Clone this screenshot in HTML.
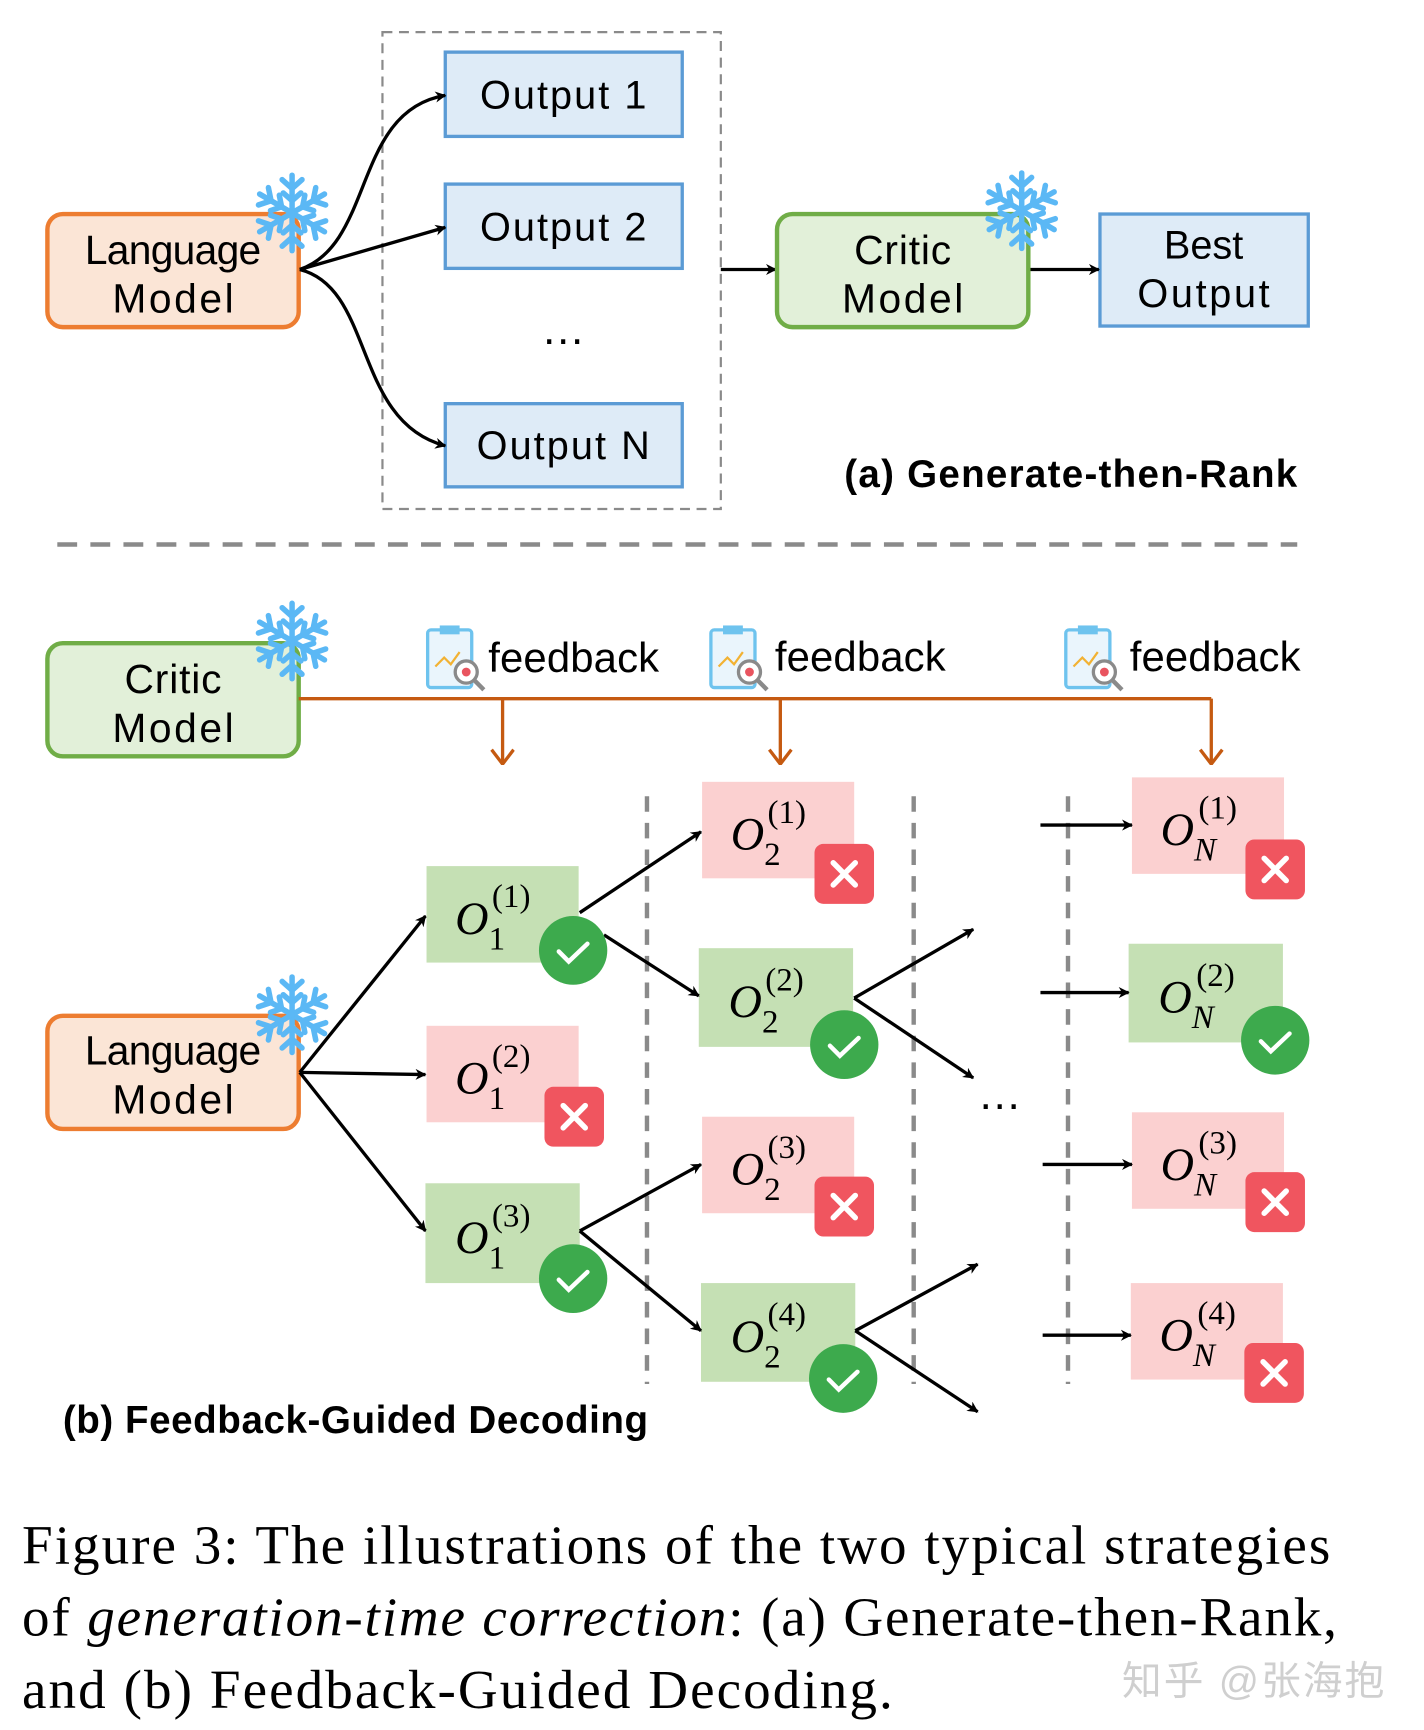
<!DOCTYPE html>
<html><head><meta charset="utf-8"><style>
html,body{margin:0;padding:0;background:#fff;}
svg{display:block;}
.s{font-family:"Liberation Sans",sans-serif;}
.m{font-family:"Liberation Serif",serif;font-style:italic;}
</style></head><body>
<svg width="1424" height="1730" viewBox="0 0 1292 1560" preserveAspectRatio="none" xmlns="http://www.w3.org/2000/svg">
<defs>
<marker id="ah" markerWidth="10" markerHeight="10" refX="9" refY="5" orient="auto" markerUnits="userSpaceOnUse"><path d="M0,0 L10,5 L0,10 L3,5 Z" fill="#000"/></marker>
<marker id="ao" markerWidth="22" markerHeight="22" refX="11" refY="20" orient="0" markerUnits="userSpaceOnUse"><path d="M1,8 L11,21 L21,8" fill="none" stroke="#C55A11" stroke-width="3"/></marker>
<g id="snow" stroke="#5BB8F5" stroke-width="5" stroke-linecap="round" fill="none">
<g id="arm"><line x1="0" y1="0" x2="0" y2="-34"/><polyline points="-9,-30 0,-22 9,-30"/><polyline points="-8,-18 0,-11 8,-18"/></g>
<use href="#arm" transform="rotate(60)"/><use href="#arm" transform="rotate(120)"/><use href="#arm" transform="rotate(180)"/><use href="#arm" transform="rotate(240)"/><use href="#arm" transform="rotate(300)"/>
</g>
<g id="chk"><circle r="31" fill="#3DAA4D"/><polyline points="-13,1 -4,10 13,-6" fill="none" stroke="#fff" stroke-width="4" stroke-linecap="round"/></g>
<g id="crs"><rect x="-27" y="-27" width="54" height="54" rx="8" fill="#F0555F"/><path d="M-10,-10 L10,10 M10,-10 L-10,10" stroke="#fff" stroke-width="5" stroke-linecap="round"/></g>
<g id="fb"><rect x="-25" y="-28" width="40" height="52" rx="3" fill="#EAF5FC" stroke="#6EC3EE" stroke-width="3"/><rect x="-14" y="-32" width="18" height="8" fill="#6EC3EE"/><polyline points="-18,5 -10,-3 -4,3 4,-8" fill="none" stroke="#F2B233" stroke-width="2"/><circle cx="10" cy="10" r="10" fill="#fff" stroke="#8A8A8A" stroke-width="3"/><circle cx="10" cy="10" r="4" fill="#E9545F"/><line x1="17" y1="17" x2="26" y2="26" stroke="#8A8A8A" stroke-width="4"/></g>
</defs>

<!-- (a) -->
<rect x="347" y="29" width="307" height="430" fill="none" stroke="#8a8a8a" stroke-width="2" stroke-dasharray="9 6"/>
<rect x="43" y="193" width="228" height="102" rx="14" fill="#FBE5D6" stroke="#ED7D31" stroke-width="4"/>
<text class="s" x="157" y="238" font-size="37" text-anchor="middle" textLength="160">Language</text>
<text class="s" x="157" y="282" font-size="37" text-anchor="middle" textLength="110">Model</text>
<use href="#snow" x="265" y="192"/>
<g fill="#DEEBF7" stroke="#5B9BD5" stroke-width="3">
<rect x="404" y="47" width="215" height="76"/><rect x="404" y="166" width="215" height="76"/><rect x="404" y="364" width="215" height="75"/>
<rect x="998" y="193" width="189" height="101"/></g>
<g class="s" font-size="36" text-anchor="middle">
<text x="511" y="98" textLength="151">Output 1</text><text x="511" y="217" textLength="151">Output 2</text><text x="511" y="414" textLength="157">Output N</text>
<text x="1092" y="233" textLength="72">Best</text><text x="1092" y="277" textLength="120">Output</text>
<text x="511" y="310" font-size="40">…</text></g>
<g fill="none" stroke="#000" stroke-width="3" marker-end="url(#ah)">
<path d="M272,243 C340,220 320,100 404,86"/>
<path d="M272,243 L404,205"/>
<path d="M272,243 C340,260 320,380 404,402"/>
<path d="M654,243 L704,243"/><path d="M933,243 L997,243"/></g>
<rect x="705" y="193" width="228" height="102" rx="14" fill="#E2F0D9" stroke="#70AD47" stroke-width="4"/>
<text class="s" x="819" y="238" font-size="37" text-anchor="middle" textLength="88">Critic</text>
<text class="s" x="819" y="282" font-size="37" text-anchor="middle" textLength="110">Model</text>
<use href="#snow" x="927" y="190"/>
<text class="s" x="766" y="439" font-size="35" font-weight="bold" textLength="411">(a) Generate-then-Rank</text>
<line x1="52" y1="491" x2="1177" y2="491" stroke="#8a8a8a" stroke-width="4" stroke-dasharray="18 12"/>

<!-- (b) -->
<rect x="43" y="580" width="228" height="102" rx="14" fill="#E2F0D9" stroke="#70AD47" stroke-width="4"/>
<text class="s" x="157" y="625" font-size="37" text-anchor="middle" textLength="88">Critic</text>
<text class="s" x="157" y="669" font-size="37" text-anchor="middle" textLength="110">Model</text>
<use href="#snow" x="265" y="578"/>
<g fill="none" stroke="#C55A11" stroke-width="3">
<path d="M271,630 L1099,630"/>
<path d="M456,630 L456,688" marker-end="url(#ao)"/><path d="M708,630 L708,688" marker-end="url(#ao)"/><path d="M1099,630 L1099,688" marker-end="url(#ao)"/></g>
<use href="#fb" x="413" y="596"/><use href="#fb" x="670" y="596"/><use href="#fb" x="992" y="596"/>
<g class="s" font-size="38"><text x="443" y="606" textLength="155">feedback</text><text x="703" y="605" textLength="155">feedback</text><text x="1025" y="605" textLength="155">feedback</text></g>

<rect x="43" y="916" width="228" height="102" rx="14" fill="#FBE5D6" stroke="#ED7D31" stroke-width="4"/>
<text class="s" x="157" y="960" font-size="37" text-anchor="middle" textLength="160">Language</text>
<text class="s" x="157" y="1004" font-size="37" text-anchor="middle" textLength="110">Model</text>
<use href="#snow" x="265" y="915"/>

<g stroke="#8a8a8a" stroke-width="4" stroke-dasharray="14 10">
<line x1="587" y1="718" x2="587" y2="1248"/><line x1="829" y1="718" x2="829" y2="1248"/><line x1="969" y1="718" x2="969" y2="1248"/></g>

<g fill="#C5E0B4"><rect x="387" y="781" width="138" height="87"/><rect x="386" y="1067" width="140" height="90"/>
<rect x="634" y="855" width="140" height="89"/><rect x="636" y="1157" width="140" height="89"/>
<rect x="1024" y="851" width="140" height="89"/></g>
<g fill="#FBD0D0"><rect x="387" y="925" width="138" height="87"/><rect x="637" y="705" width="138" height="87"/><rect x="637" y="1007" width="138" height="87"/>
<rect x="1027" y="701" width="138" height="87"/><rect x="1027" y="1003" width="138" height="87"/><rect x="1026" y="1157" width="138" height="87"/></g>

<g fill="none" stroke="#000" stroke-width="3" marker-end="url(#ah)">
<path d="M272,967 L386,826"/><path d="M272,967 L386,969"/><path d="M272,967 L386,1110"/>
<path d="M526,823 L636,750"/><path d="M548,843 L634,898"/>
<path d="M526,1110 L636,1050"/><path d="M526,1110 L636,1200"/>
<path d="M775,900 L883,838"/><path d="M775,900 L883,972"/>
<path d="M776,1200 L887,1140"/><path d="M776,1200 L887,1273"/>
<path d="M944,744 L1027,744"/><path d="M944,895 L1024,895"/><path d="M946,1050 L1027,1050"/><path d="M946,1204 L1026,1204"/></g>
<text class="s" x="907" y="1000" font-size="40" text-anchor="middle">…</text>

<g class="m" font-size="42">
<text x="413" y="842">O<tspan font-size="30" font-style="normal" dy="14">1</tspan><tspan font-size="30" font-style="normal" dx="-12" dy="-38">(1)</tspan></text>
<text x="413" y="986">O<tspan font-size="30" font-style="normal" dy="14">1</tspan><tspan font-size="30" font-style="normal" dx="-12" dy="-38">(2)</tspan></text>
<text x="413" y="1130">O<tspan font-size="30" font-style="normal" dy="14">1</tspan><tspan font-size="30" font-style="normal" dx="-12" dy="-38">(3)</tspan></text>
<text x="663" y="766">O<tspan font-size="30" font-style="normal" dy="14">2</tspan><tspan font-size="30" font-style="normal" dx="-12" dy="-38">(1)</tspan></text>
<text x="661" y="917">O<tspan font-size="30" font-style="normal" dy="14">2</tspan><tspan font-size="30" font-style="normal" dx="-12" dy="-38">(2)</tspan></text>
<text x="663" y="1068">O<tspan font-size="30" font-style="normal" dy="14">2</tspan><tspan font-size="30" font-style="normal" dx="-12" dy="-38">(3)</tspan></text>
<text x="663" y="1219">O<tspan font-size="30" font-style="normal" dy="14">2</tspan><tspan font-size="30" font-style="normal" dx="-12" dy="-38">(4)</tspan></text>
<text x="1053" y="762">O<tspan font-size="30" dy="14">N</tspan><tspan font-size="30" font-style="normal" dx="-16" dy="-38">(1)</tspan></text>
<text x="1051" y="913">O<tspan font-size="30" dy="14">N</tspan><tspan font-size="30" font-style="normal" dx="-16" dy="-38">(2)</tspan></text>
<text x="1053" y="1064">O<tspan font-size="30" dy="14">N</tspan><tspan font-size="30" font-style="normal" dx="-16" dy="-38">(3)</tspan></text>
<text x="1052" y="1218">O<tspan font-size="30" dy="14">N</tspan><tspan font-size="30" font-style="normal" dx="-16" dy="-38">(4)</tspan></text>
</g>

<use href="#chk" x="520" y="857"/><use href="#chk" x="520" y="1153"/><use href="#chk" x="766" y="942"/><use href="#chk" x="765" y="1243"/><use href="#chk" x="1157" y="938"/>
<use href="#crs" x="521" y="1007"/><use href="#crs" x="766" y="788"/><use href="#crs" x="766" y="1088"/><use href="#crs" x="1157" y="784"/><use href="#crs" x="1157" y="1084"/><use href="#crs" x="1156" y="1238"/>

<text class="s" x="57" y="1292" font-size="35" font-weight="bold" textLength="531">(b) Feedback-Guided Decoding</text>

<g font-family="Liberation Serif,serif" font-size="50">
<text x="20" y="1410" textLength="1187">Figure 3: The illustrations of the two typical strategies</text>
<text x="20" y="1475" textLength="1193">of <tspan font-style="italic">generation-time correction</tspan>: (a) Generate-then-Rank,</text>
<text x="20" y="1540" textLength="790">and (b) Feedback-Guided Decoding.</text></g>
<text x="1018" y="1528" font-family="Liberation Sans,Noto Sans CJK SC,sans-serif" font-size="36" fill="#cfcfcf" textLength="238">知乎 @张海抱</text>
</svg>
</body></html>
